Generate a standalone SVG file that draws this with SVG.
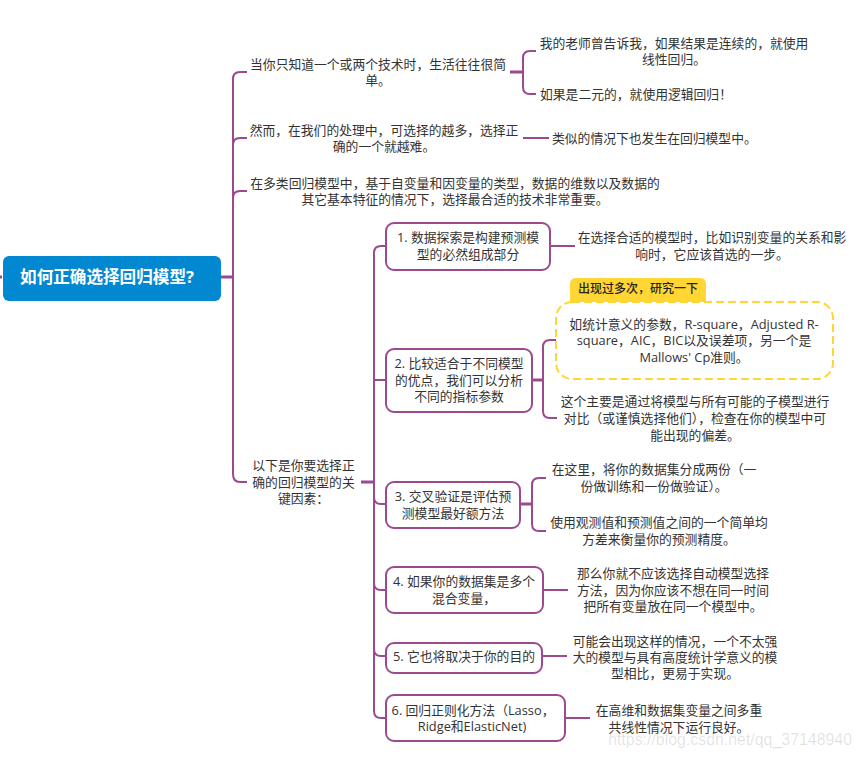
<svg xmlns="http://www.w3.org/2000/svg" width="861" height="757" viewBox="0 0 861 757">
<style>
text{font-family:"Open Sans","Noto Sans CJK SC","Noto Sans",sans-serif;font-size:12.8px;fill:#333;text-anchor:middle}
.c{fill:none;stroke:#9c4a90;stroke-width:2}
.t{stroke-width:3}
.b{fill:#fff;stroke:#9c4a90;stroke-width:2}
.l{text-anchor:start}
</style>
<rect width="861" height="757" fill="#fff"/>
<g id="connectors">
<path class="c t" d="M221 277H233M0 277H2"/>
<path class="c" d="M247 72H240Q233 72 233 79V474Q233 482 240 482H247"/>
<path class="c" d="M233 145Q233 138 240 138H247M233 198Q233 191 240 191H247"/>
<path class="c t" d="M510 72H523"/>
<path class="c" d="M536 51H530Q523 51 523 58V87Q523 94 530 94H536"/>
<path class="c" d="M523 138H549"/>
<path class="c t" d="M361 482H374"/>
<path class="c" d="M386 246H381Q374 246 374 253V711Q374 718 381 718H386"/>
<path class="c" d="M386 380H374M374 497Q374 504 381 504H386M374 583Q374 590 381 590H386M374 649Q374 656 381 656H386"/>
<path class="c" d="M550 246H575"/>
<path class="c t" d="M532 380H543"/>
<path class="c" d="M567 340H550Q543 340 543 347V411Q543 418 550 418H557"/>
<path class="c t" d="M520 504H532"/>
<path class="c" d="M546 478H539Q532 478 532 485V524Q532 531 539 531H546"/>
<path class="c" d="M543 590H568M542 656H567M565 718H590"/>
</g>
<g id="root"><rect x="3" y="256" width="218" height="45" rx="6" fill="#0288d1"/><text x="107" y="283" style="font-size:16.6px;font-weight:700;fill:#fff">如何正确选择回归模型?</text></g>
<g id="n1"><text x="378" y="69">当你只知道一个或两个技术时，生活往往很简</text><text x="378" y="85">单。</text></g>
<g id="n1a"><text x="674" y="48">我的老师曾告诉我，如果结果是连续的，就使用</text><text x="674" y="64">线性回归。</text></g>
<g id="n1b"><text class="l" x="540" y="99">如果是二元的，就使用逻辑回归！</text></g>
<g id="n2"><text x="384" y="135">然而，在我们的处理中，可选择的越多，选择正</text><text x="384" y="151">确的一个就越难。</text></g>
<g id="n2a"><text class="l" x="552" y="143">类似的情况下也发生在回归模型中。</text></g>
<g id="n3"><text x="455" y="188">在多类回归模型中，基于自变量和因变量的类型，数据的维数以及数据的</text><text x="455" y="204">其它基本特征的情况下，选择最合适的技术非常重要。</text></g>
<g id="n4"><text x="303.5" y="470">以下是你要选择正</text><text x="303.5" y="487">确的回归模型的关</text><text x="303.5" y="503">键因素：</text></g>
<g id="k1"><rect class="b" x="386" y="223" width="164" height="47" rx="8"/><text x="468" y="242">1. 数据探索是构建预测模</text><text x="468" y="259">型的必然组成部分</text></g>
<g id="k1a"><text x="712" y="242">在选择合适的模型时，比如识别变量的关系和影</text><text x="712" y="259">响时，它应该首选的一步。</text></g>
<g id="k2"><rect class="b" x="386" y="349" width="146" height="63" rx="8"/><text x="459" y="368">2. 比较适合于不同模型</text><text x="459" y="385">的优点，我们可以分析</text><text x="459" y="401">不同的指标参数</text></g>
<g id="k2a">
<path d="M570 302V284Q570 278 576 278H700Q706 278 706 284V302Z" fill="#ffd633"/>
<text x="638" y="293" style="font-size:12px;font-weight:500;fill:#222">出现过多次，研究一下</text>
<rect x="556" y="302" width="277" height="77" rx="16" fill="#fff" stroke="#ffd633" stroke-width="2" stroke-dasharray="8 4"/>
<text x="694" y="329">如统计意义的参数，R-square，Adjusted R-</text><text x="694" y="345">square，AIC，BIC以及误差项，另一个是</text><text x="694" y="362">Mallows' Cp准则。</text></g>
<g id="k2b"><text x="695" y="406">这个主要是通过将模型与所有可能的子模型进行</text><text x="695" y="423">对比（或谨慎选择他们），检查在你的模型中可</text><text x="695" y="440">能出现的偏差。</text></g>
<g id="k3"><rect class="b" x="386" y="482" width="134" height="46" rx="8"/><text x="453" y="501">3. 交叉验证是评估预</text><text x="453" y="518">测模型最好额方法</text></g>
<g id="k3a"><text x="654" y="474">在这里，将你的数据集分成两份（一</text><text x="654" y="491">份做训练和一份做验证）。</text></g>
<g id="k3b"><text x="659" y="527">使用观测值和预测值之间的一个简单均</text><text x="659" y="544">方差来衡量你的预测精度。</text></g>
<g id="k4"><rect class="b" x="386" y="567" width="157" height="46" rx="8"/><text x="464" y="586">4. 如果你的数据集是多个</text><text x="464" y="603">混合变量，</text></g>
<g id="k4a"><text x="673" y="578">那么你就不应该选择自动模型选择</text><text x="673" y="595">方法，因为你应该不想在同一时间</text><text x="673" y="611">把所有变量放在同一个模型中。</text></g>
<g id="k5"><rect class="b" x="386" y="643" width="156" height="30" rx="8"/><text x="464" y="661">5. 它也将取决于你的目的</text></g>
<g id="k5a"><text x="675" y="646">可能会出现这样的情况，一个不太强</text><text x="675" y="662">大的模型与具有高度统计学意义的模</text><text x="675" y="678">型相比，更易于实现。</text></g>
<g id="k6"><rect class="b" x="386" y="695" width="179" height="46" rx="8"/><text x="473" y="715">6. 回归正则化方法（Lasso，</text><text x="472" y="731">Ridge和ElasticNet)</text></g>
<g id="k6a"><text x="679" y="715">在高维和数据集变量之间多重</text><text x="679" y="732">共线性情况下运行良好。</text></g>
<text x="852" y="745" style="font-family:'Liberation Sans',sans-serif;font-size:15.9px;fill:#000;fill-opacity:.12;text-anchor:end">https://blog.csdn.net/qq_37148940</text>
</svg>
